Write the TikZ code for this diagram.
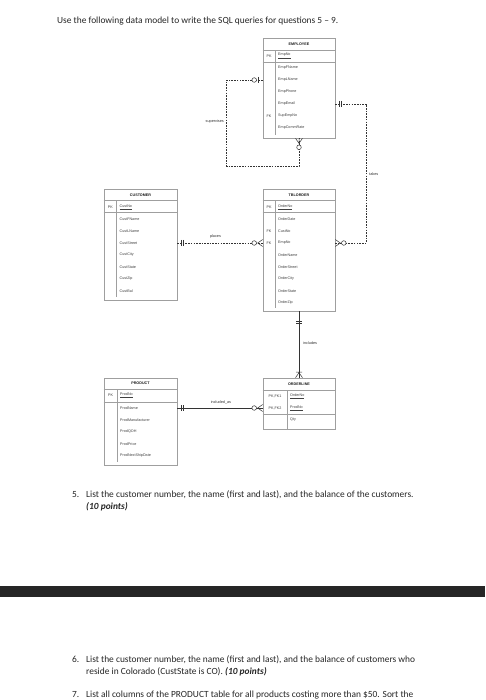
\documentclass[tikz,border=0pt]{standalone}
\usepackage{fontspec}
\setmainfont{Carlito}
\newfontfamily\erfont{Liberation Sans}
\usetikzlibrary{calc,positioning}

\begin{document}
\begin{tikzpicture}[
	x=1pt, y=-1pt,
	tbl/.style = {rectangle, draw=gray!75, line width=0.6pt, inner sep=0pt},
	grid/.style = {draw=gray!75, line width=0.5pt},
	ttl/.style = {font=\erfont\bfseries\fontsize{3.7}{4}\selectfont, inner sep=0pt, text=black!90},
	att/.style = {font=\erfont\fontsize{3.7}{4}\selectfont, inner sep=0pt, anchor=west, text=black!75},
	key/.style = {att, anchor=center},
	rel/.style = {font=\erfont\fontsize{3.8}{4}\selectfont, inner sep=0pt, text=black!80},
	conn/.style = {line width=0.6pt, black!80},
	dsh/.style = {conn, dash pattern=on 1.6pt off 1.1pt},
	bar/.style = {line width=0.5pt, black!80},
	ring/.style = {circle, draw=black!80, line width=0.5pt, fill=white,
		inner sep=0pt, minimum size=4.6pt},
	txt/.style = {font=\fontsize{9.4}{11}\selectfont, inner sep=0pt,
		anchor=base west, text=black!85},
	]
	\useasboundingbox[fill=white] (0,0) rectangle (485,700);

	\node[txt] (intro) at (57,24) {Use the following data model to write the SQL queries for questions 5 -- 9.};

	% EMPLOYEE
	\node[tbl, minimum width=72pt, minimum height=100pt] (emp) at (299,88) {};
	\node[ttl] (emp-t) at (299,44.5) {EMPLOYEE};
	\draw[grid] (emp.west |- 0,50.5) -- (emp.east |- 0,50.5);
	\draw[grid] (emp.west |- 0,62) -- (emp.east |- 0,62);
	\draw[grid] (275,50.5) -- (275,135);
	\node[key] (emp-pk) at (269,56) {PK};
	\node[att] (emp-0) at (278,56) {\underline{EmpNo}};
	\foreach \a [count=\i] in {EmpFName,EmpLName,EmpPhone,EmpEmail,SupEmpNo,EmpCommRate}
	\node[att] (emp-\i) at (278,56+12*\i) {\a};
	\node[key] (emp-fk) at (269,116) {FK};

	% CUSTOMER
	\node[tbl, minimum width=73pt, minimum height=111pt] (cust) at (140.5,244.5) {};
	\node[ttl] (cust-t) at (140.5,195) {CUSTOMER};
	\draw[grid] (cust.west |- 0,200.5) -- (cust.east |- 0,200.5);
	\draw[grid] (cust.west |- 0,212.5) -- (cust.east |- 0,212.5);
	\draw[grid] (116.5,200.5) -- (116.5,297);
	\node[key] (cust-pk) at (110.3,207) {PK};
	\node[att] (cust-0) at (119.5,207) {\underline{CustNo}};
	\foreach \a [count=\i] in {CustFName,CustLName,CustStreet,CustCity,CustState,CustZip,CustBal}
	\node[att] (cust-\i) at (119.5,207+12*\i) {\a};

	% TBLORDER
	\node[tbl, minimum width=72pt, minimum height=122pt] (ord) at (299,250) {};
	\node[ttl] (ord-t) at (299,195) {TBLORDER};
	\draw[grid] (ord.west |- 0,200.5) -- (ord.east |- 0,200.5);
	\draw[grid] (ord.west |- 0,212.5) -- (ord.east |- 0,212.5);
	\draw[grid] (275,200.5) -- (275,308);
	\node[key] (ord-pk) at (269,207) {PK};
	\node[att] (ord-0) at (278,207) {\underline{OrderNo}};
	\foreach \a [count=\i] in {OrderDate,CustNo,EmpNo,OrderName,OrderStreet,OrderCity,OrderState,OrderZip}
	\node[att] (ord-\i) at (278,207+12*\i) {\a};
	\node[key] (ord-fk1) at (269,231) {FK};
	\node[key] (ord-fk2) at (269,243) {FK};

	% PRODUCT
	\node[tbl, minimum width=73pt, minimum height=87pt] (prod) at (140.5,421.5) {};
	\node[ttl] (prod-t) at (140.5,383.5) {PRODUCT};
	\draw[grid] (prod.west |- 0,389) -- (prod.east |- 0,389);
	\draw[grid] (prod.west |- 0,402) -- (prod.east |- 0,402);
	\draw[grid] (117,389) -- (117,462);
	\node[key] (prod-pk) at (110.5,395.5) {PK};
	\node[att] (prod-0) at (120,395.5) {\underline{ProdNo}};
	\foreach \a [count=\i] in {ProdName,ProdManufacturer,ProdQOH,ProdPrice,ProdNextShipDate}
	\node[att] (prod-\i) at (120,396+12*\i) {\a};

	% ORDERLINE
	\node[tbl, minimum width=72pt, minimum height=51pt] (ol) at (299,403.5) {};
	\node[ttl] (ol-t) at (299,384) {ORDERLINE};
	\draw[grid] (ol.west |- 0,390) -- (ol.east |- 0,390);
	\draw[grid] (ol.west |- 0,414) -- (ol.east |- 0,414);
	\draw[grid] (287,390) -- (287,429);
	\node[key] (ol-pk1) at (275,396) {PK,FK1};
	\node[key] (ol-pk2) at (275,408) {PK,FK2};
	\node[att] (ol-1) at (290,396) {\underline{OrderNo}};
	\node[att] (ol-2) at (290,408) {\underline{ProdNo}};
	\node[att] (ol-3) at (290,420) {Qty};

	% connectors
	\coordinate (sv-a) at (emp.west |- emp-2);
	\coordinate (tk-a) at (emp.east |- emp-4);
	\coordinate (tk-b) at (ord.east |- ord-3);
	\coordinate (pl-a) at (cust.east |- cust-3);
	\coordinate (pl-b) at (ord.west |- cust-3);
	\coordinate (ia-a) at (prod.east |- prod-1);
	\coordinate (ia-b) at (ol.west |- prod-1);

	\draw[dsh] (sv-a) -- ++(-36,0) |- ($(emp.south)+(0,28)$) -- (emp.south);
	\draw[dsh] (tk-a) -- ++(31,0) |- (tk-b);
	\draw[dsh] (pl-a) -- (pl-b);
	\draw[conn] (ord.south) -- (ol.north);
	\draw[conn] (ia-a) -- (ia-b);

	% supervises ends
	\draw[bar] ($(sv-a)+(-4.5,-3)$) -- ++(0,6);
	\node[ring] (sv-r1) at ($(sv-a)+(-8.5,0)$) {};
	\draw[bar] ($(emp.south)+(-3.5,0)$) -- ($(emp.south)+(0,5)$) -- ($(emp.south)+(3.5,0)$)
		(emp.south) -- ++(0,5);
	\node[ring] (sv-r2) at ($(emp.south)+(0,9)$) {};

	% takes ends
	\draw[bar] ($(tk-a)+(3.5,-3)$) -- ++(0,6) ($(tk-a)+(5.5,-3)$) -- ++(0,6);
	\draw[bar] ($(tk-b)+(0,-3.5)$) -- ($(tk-b)+(5,0)$) -- ($(tk-b)+(0,3.5)$);
	\node[ring] (tk-r) at ($(tk-b)+(8.5,0)$) {};

	% places ends
	\draw[bar] ($(pl-a)+(3.5,-3)$) -- ++(0,6) ($(pl-a)+(5.5,-3)$) -- ++(0,6);
	\draw[bar] ($(pl-b)+(0,-3.5)$) -- ($(pl-b)+(-5,0)$) -- ($(pl-b)+(0,3.5)$);
	\node[ring] (pl-r) at ($(pl-b)+(-8.5,0)$) {};

	% includes ends
	\draw[bar] ($(ord.south)+(-3,9.5)$) -- ++(6,0) ($(ord.south)+(-3,11.5)$) -- ++(6,0);
	\draw[bar] ($(ol.north)+(-3.5,0)$) -- ($(ol.north)+(0,-5)$) -- ($(ol.north)+(3.5,0)$)
		($(ol.north)+(-3,-5.5)$) -- ++(6,0);

	% included_as ends
	\draw[bar] ($(ia-a)+(3.5,-3)$) -- ++(0,6) ($(ia-a)+(5.5,-3)$) -- ++(0,6);
	\draw[bar] ($(ia-b)+(0,-3.5)$) -- ($(ia-b)+(-5,0)$) -- ($(ia-b)+(0,3.5)$);
	\node[ring] (ia-r) at ($(ia-b)+(-8.5,0)$) {};

	\node[rel, anchor=east] (sv-l) at (224,122) {supervises};
	\node[rel, anchor=west] (tk-l) at (369,174) {takes};
	\node[rel] (pl-l) at (215.5,237) {places};
	\node[rel, anchor=west] (in-l) at (303,343) {includes};
	\node[rel] (ia-l) at (221,402) {included\_as};

	% questions
	\node[txt] (q5n) at (72,497) {5.};
	\node[txt] (q5) at (86,497) {List the customer number, the name (first and last), and the balance of the customers.};
	\node[txt] (q5p) at (86,509) {\bfseries\itshape (10 points)};
	\fill[black!85] (0,586) rectangle (485,597);
	\node[txt] (q6n) at (72,662) {6.};
	\node[txt] (q6) at (86,662) {List the customer number, the name (first and last), and the balance of customers who};
	\node[txt] (q6b) at (86,674) {reside in Colorado (CustState is CO). \textbf{\textit{(10 points)}}};
	\node[txt] (q7n) at (72,697) {7.};
	\node[txt] (q7) at (86,697) {List all columns of the PRODUCT table for all products costing more than \$50. Sort the};
\end{tikzpicture}
\end{document}
